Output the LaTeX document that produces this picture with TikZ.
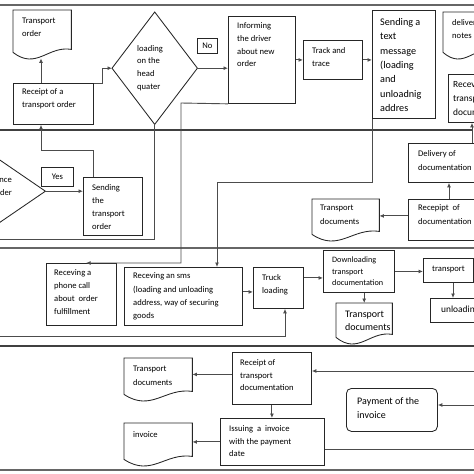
\documentclass[tikz,border=0pt]{standalone}
\usepackage{fontspec}
\setmainfont{Carlito}
\usetikzlibrary{arrows.meta,calc}
\newcommand\fs[2]{\fontsize{#1}{#2}\selectfont}
\newcommand\boxat[6][boxst]{\node[#1, minimum width={#5-#3}, minimum height={#6-#4}] (#2) at (#3,#4) {};}
\newcommand\docdraw[1]{\draw[docst] ($(#1.south west)+(0,-6)$) -- (#1.north west) -- (#1.north east) -- ($(#1.south east)+(0,-9)$) .. controls ($(#1.south east)!0.4!(#1.south west)+(0,-13)$) and ($(#1.south west)!0.4!(#1.south east)+(0,12)$) .. ($(#1.south west)+(0,-6)$) -- cycle;}
\begin{document}
\begin{tikzpicture}[x=1pt,y=-1pt,
  boxst/.style={draw=black!85, line width=0.85pt, rectangle, inner sep=0pt, anchor=north west},
  ghost/.style={rectangle, inner sep=0pt, anchor=north west},
  roundst/.style={boxst, rounded corners=5pt},
  txt/.style={font=\fs{8.6}{13}, align=left, anchor=west, inner sep=0pt, text=black},
  lane/.style={draw=black!60, line width=1.2pt},
  con/.style={draw=black!70, line width=0.9pt},
  arr/.style={con, -{Latex[length=4.5pt,width=4pt]}},
  docst/.style={draw=black!85, line width=0.85pt},
]
\useasboundingbox (0,0) rectangle (474,474);
\fill[white] (0,0) rectangle (474,474);
\clip (0,0) rectangle (474,474);

% lane lines
\draw[lane, line width=1.6pt] (0,5) -- (474,5);
\draw[lane, draw=black!75] (0,130) -- (472,130);
\draw[lane] (0,248) -- (474,248);
\draw[lane, draw=black!75] (0,346) -- (474,346);
\draw[lane, line width=1.6pt] (0,470) -- (474,470);

% ---- lane 1
\boxat[ghost]{tord}{13}{10}{71}{58}
\docdraw{tord}
\boxat{rec}{13}{83}{93}{124}
\boxat[ghost]{dia}{112}{12}{197}{124}
\draw[docst] (dia.west) -- (dia.north) -- (dia.east) -- (dia.south) -- cycle;
\boxat{no}{197}{38}{217}{53}
\boxat{inf}{228}{16}{295}{103}
\boxat{trk}{303}{40}{362}{79}
\boxat{snd}{372}{10}{435}{118}
\boxat[ghost]{dnotes}{443}{12}{495}{58}
\docdraw{dnotes}
\boxat{rtd1}{448}{74}{495}{122}

% ---- lane 2
\boxat[ghost]{ldia}{-75}{150}{45}{232}
\draw[docst] (ldia.west) -- (ldia.north) -- (ldia.east) -- (ldia.south) -- cycle;
\boxat{yes}{41}{167}{73}{186}
\boxat{sto}{83}{177}{142}{235}
\boxat{dod}{408}{143}{495}{182}
\boxat{rcd}{408}{199}{495}{240}
\boxat[ghost]{tdoc2}{312}{199}{379}{240}
\docdraw{tdoc2}

% ---- lane 3
\boxat{phone}{46}{263}{116}{325}
\boxat{sms}{124}{267}{242}{325}
\boxat{truck}{253}{267}{303}{308}
\boxat{dl}{323}{250}{394}{292}
\boxat[ghost]{tdoc3}{336}{303}{392}{343}
\docdraw{tdoc3}
\boxat{trn}{423}{258}{473}{282}
\boxat{unl}{430}{298}{495}{322}

% ---- lane 4
\boxat[ghost]{tdoc4}{124}{358}{192}{400}
\docdraw{tdoc4}
\boxat[ghost]{inv}{124}{423}{192}{465}
\docdraw{inv}
\boxat{rtd4}{232}{352}{311}{404}
\boxat{iss}{220}{418}{324}{465}
\boxat[roundst]{pay}{346}{388}{437}{431}

% ---- texts
\node[txt] (t1) at (22,27.5) {Transport\\order};
\node[txt] (t2) at (22,98.5) {Receipt of a\\transport order};
\node[txt, font=\fs{8.6}{12.7}] (t3) at (137,68) {loading\\on the\\head\\quater};
\node[txt, anchor=center] (t4) at (no.center) {No};
\node[txt, font=\fs{8.6}{12.7}] (t5) at (237,45) {Informing\\the driver\\about new\\order};
\node[txt, font=\fs{8.6}{12.5}] (t6) at (312,57) {Track and\\trace};
\node[txt, font=\fs{10.2}{14.4}] (t7) at (380,65) {Sending a\\text\\message\\(loading\\and\\unloadnig\\addres};
\node[txt, font=\fs{8.6}{12.5}] (t8) at (452,29) {delivery\\notes};
\node[txt, font=\fs{9.4}{14.2}] (t9) at (453,98.5) {Receving\\transport\\documents};
\node[txt, anchor=east, align=right] (t10) at (12,186.5) {Acceptance\\of the order};
\node[txt, anchor=center] (t11) at (yes.center) {Yes};
\node[txt, font=\fs{8.6}{12.7}] (t12) at (92,207) {Sending\\the\\transport\\order};
\node[txt, font=\fs{8.6}{14}] (t13) at (418,160.5) {Delivery of\\documentation};
\node[txt, font=\fs{8.6}{14}] (t14) at (418,215) {Recepipt~ of\\documentation};
\node[txt, font=\fs{8.6}{14}] (t15) at (320,215) {Transport\\documents};
\node[txt] (t16) at (54,292.5) {Receving a\\phone call\\about~ order\\fulfillment};
\node[txt, font=\fs{8.6}{13.3}] (t17) at (133,296.5) {Receving an sms\\(loading and unloading\\address, way of securing\\goods};
\node[txt] (t18) at (262,284.5) {Truck\\loading};
\node[txt, font=\fs{8.2}{11.5}] (t19) at (332,271.5) {Downloading\\transport\\documentation};
\node[txt, font=\fs{10}{13}] (t20) at (345,320.5) {Transport\\documents};
\node[txt] (t21) at (432,269) {transport};
\node[txt, font=\fs{9.4}{13}] (t22) at (441,310) {unloading};
\node[txt, font=\fs{8.6}{14}] (t23) at (133,376) {Transport\\documents};
\node[txt] (t24) at (133,435) {invoice};
\node[txt, font=\fs{8.6}{12.5}] (t25) at (240,375.5) {Receipt of\\transport\\documentation};
\node[txt, font=\fs{8.6}{12.5}] (t26) at (229,441.5) {Issuing~ a~ invoice\\with the payment\\date};
\node[txt, font=\fs{10}{14}] (t27) at (357,408) {Payment of the\\invoice};

% ---- connectors
\draw[arr] ([xshift=28pt]rec.north west) -- ([xshift=28pt]tord.south west);
\draw[arr] (rec.north east) -- ++(9,0) |- (dia.west);
\draw[arr] (dia.east) -- (dia.east -| inf.west);
\draw[arr] (trk.west -| inf.east) -- (trk.west);
\draw[arr] (trk.east) -- (trk.east -| snd.west);
\coordinate (k1) at (217,182);
\draw[arr] (snd.south west) |- (k1) -- (k1 |- sms.north);
\coordinate (k2) at (181,103);
\draw[arr] (inf.south west) -- (k2) -- (k2 |- phone.north) -- ([xshift=40pt]phone.north west);
\coordinate (k3) at (0,239);
\draw[con] (dia.south) |- (k3);
\coordinate (k4) at (41,150);
\draw[arr] ([xshift=10pt]sto.north west) |- (k4) -- (k4 |- rec.south);
\draw[arr] (ldia.east) -- (ldia.east -| sto.west);
\draw[arr] ([xshift=64pt]dod.north west) -- ([xshift=24pt]rtd1.south west);
\draw[arr] ([xshift=41pt]rcd.north west) -- ([xshift=41pt]dod.south west);
\coordinate (k5) at ([yshift=4pt]rcd.west);
\draw[arr] (k5) -- (k5 -| tdoc2.east);
\coordinate (k6) at ([yshift=-4pt]truck.west);
\draw[arr] (k6 -| sms.east) -- (k6);
\coordinate (k7) at ([yshift=10pt]truck.east);
\draw[arr] (k7) -- (k7 -| dl.west);
\draw[arr] (tdoc3.north |- dl.south) -- (tdoc3.north);
\draw[arr] (dl.east) -- (dl.east -| trn.west);
\coordinate (k8) at ([xshift=30pt]trn.south west);
\draw[arr] (k8) -- (k8 |- unl.north);
\coordinate (k9) at (0,336);
\draw[arr] (k9) -| ([xshift=32pt]truck.south west);
\coordinate (k10) at (474,371);
\draw[arr] (k10) -- (k10 -| rtd4.east);
\coordinate (k11) at ([yshift=4pt]rtd4.west);
\draw[arr] (k11) -- (k11 -| tdoc4.east);
\draw[arr] (rtd4.south) -- (rtd4.south |- iss.north);
\draw[arr] (iss.west) -- (iss.west -| inv.east);
\coordinate (k12) at ([yshift=-8pt]iss.east);
\coordinate (k13) at (474,450);
\draw[con] (k12) -- (k12 -| k13);
\coordinate (k14) at (474,405);
\draw[arr] (k14) -- (k14 -| pay.east);
\end{tikzpicture}
\end{document}
